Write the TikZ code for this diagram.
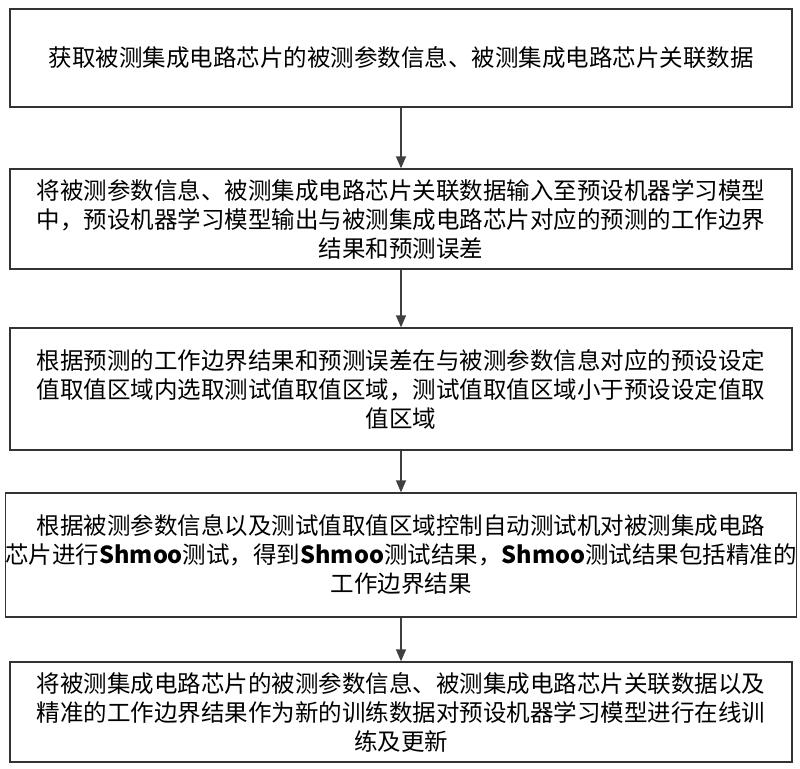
\documentclass[tikz,border=0pt]{standalone}
\usepackage{fontspec}
\setmainfont{Noto Sans CJK SC}
\usetikzlibrary{arrows.meta}
\begin{document}
\begin{tikzpicture}[x=1pt,y=-1pt,
  stepbox/.style={draw=black!80,line width=1.3pt,minimum width=782pt,align=center,inner sep=0pt,
    font=\fontsize{23.5}{29}\selectfont},
  conn/.style={draw=black!75,line width=1.3pt,-{Triangle[length=12pt,width=10pt]}}]
\useasboundingbox (0,0) rectangle (800,768);
\node[stepbox,minimum height=98pt] (a) at (401,58) {获取被测集成电路芯片的被测参数信息、被测集成电路芯片关联数据};
\node[stepbox,minimum height=100pt] (b) at (401,219) {将被测参数信息、被测集成电路芯片关联数据输入至预设机器学习模型\\中，预设机器学习模型输出与被测集成电路芯片对应的预测的工作边界\\结果和预测误差};
\node[stepbox,minimum height=122pt] (c) at (401,389) {根据预测的工作边界结果和预测误差在与被测参数信息对应的预设设定\\值取值区域内选取测试值取值区域，测试值取值区域小于预设设定值取\\值区域};
\node[stepbox,minimum height=124pt] (d) at (401,555) {根据被测参数信息以及测试值取值区域控制自动测试机对被测集成电路\\芯片进行\textbf{Shmoo}测试，得到\textbf{Shmoo}测试结果，\textbf{Shmoo}测试结果包括精准的\\工作边界结果};
\node[stepbox,minimum height=100pt] (e) at (401,712) {将被测集成电路芯片的被测参数信息、被测集成电路芯片关联数据以及\\精准的工作边界结果作为新的训练数据对预设机器学习模型进行在线训\\练及更新};
\draw[conn] (a) -- (b);
\draw[conn] (b) -- (c);
\draw[conn] (c) -- (d);
\draw[conn] (d) -- (e);
\end{tikzpicture}
\end{document}
